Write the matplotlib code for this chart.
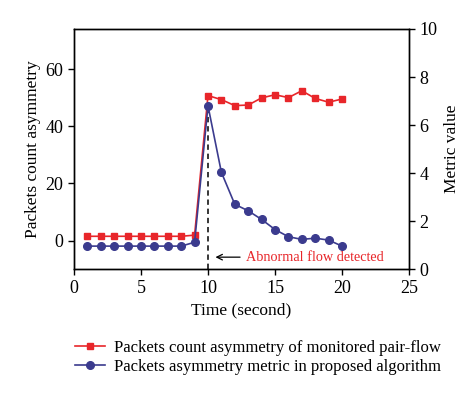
import matplotlib
matplotlib.use("Agg")
import matplotlib.pyplot as plt

plt.rcParams["font.family"] = ["Liberation Serif", "DejaVu Serif"]

time_s = list(range(1, 21))
count_asym = [1.5, 1.5, 1.5, 1.5, 1.5, 1.5, 1.5, 1.5, 1.9, 50.7,
              49.3, 47.2, 47.4, 49.9, 51.0, 50.0, 52.4, 49.7, 48.4, 49.5]
metric_val = [0.96, 0.96, 0.96, 0.96, 0.96, 0.96, 0.96, 0.96, 1.12, 6.8,
              4.03, 2.7, 2.43, 2.07, 1.65, 1.35, 1.24, 1.29, 1.21, 0.96]

RED = "#e8262a"
BLUE = "#3b3b8e"

fig = plt.figure(figsize=(4.74, 3.97), dpi=100)
ax = fig.add_axes([0.156, 0.322, 0.707, 0.605])
ax2 = ax.twinx()

l1, = ax.plot(time_s, count_asym, color=RED, marker="s", markersize=5,
              linewidth=1.2, label="Packets count asymmetry of monitored pair-flow")
l2, = ax2.plot(time_s, metric_val, color=BLUE, marker="o", markersize=5.5,
               linewidth=1.2, label="Packets asymmetry metric in proposed algorithm")

ax.set_xlim(0, 25)
ax.set_ylim(-10, 74)
ax.set_xticks([0, 5, 10, 15, 20, 25])
ax.set_yticks([0, 20, 40, 60])
ax2.set_ylim(0, 10)
ax2.set_yticks([0, 2, 4, 6, 8, 10])

# linea de deteccion
ax2.plot([10, 10], [0, metric_val[9]], color="black", linestyle="--", linewidth=1.1,
         dashes=(3.5, 2.5), zorder=1)
ax2.annotate("", xy=(10.35, 0.5), xytext=(12.6, 0.5),
             arrowprops=dict(arrowstyle="->", color="black", lw=0.9))
ax2.text(12.85, 0.5, "Abnormal flow detected", color=RED, fontsize=10.3,
         va="center", ha="left")

for a in (ax, ax2):
    a.tick_params(direction="out", labelsize=13, length=4, width=1)
    for s in a.spines.values():
        s.set_linewidth(1)

ax.set_xlabel("Time (second)", fontsize=12.5, labelpad=4)
ax.set_ylabel("Packets count asymmetry", fontsize=12.5, labelpad=3)
ax2.set_ylabel("Metric value", fontsize=12.5, labelpad=5)

fig.legend(handles=[l1, l2], loc="upper left",
           bbox_to_anchor=(0.145, 1 - 333 / 397),
           frameon=False, fontsize=12, handlelength=1.8, handletextpad=0.5,
           labelspacing=0.2, borderaxespad=0)

fig.savefig("out.png", dpi=100)
